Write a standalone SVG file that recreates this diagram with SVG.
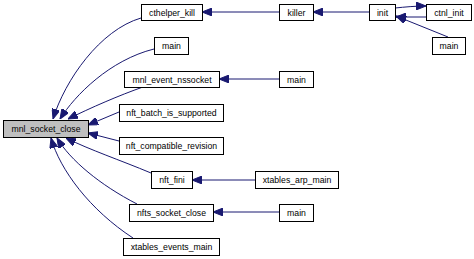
<svg xmlns="http://www.w3.org/2000/svg" width="474" height="259" viewBox="0 0 474 259">
<style>
.n rect{fill:#fff;stroke:#000;stroke-width:1}
.n.g rect{fill:#bfbfbf}
.n text{font-family:"Liberation Sans",Arial,sans-serif;font-size:8.7px;text-anchor:middle;fill:#000}
.e path{fill:none;stroke:#191970;stroke-width:1;marker-end:url(#ah)}
</style>
<defs>
<marker id="ah" viewBox="0 0 10 8" refX="10" refY="4" markerWidth="10" markerHeight="8" markerUnits="userSpaceOnUse" orient="auto">
<path d="M0,0 L10,4 L0,8 z" fill="#191970" stroke="#191970"/>
</marker>
</defs>
<rect width="474" height="259" fill="#fff"/>
<g id="edges" class="e">
<path d="M141,18 C100,30 65,80 53,119"/>
<path d="M154,49 C110,60 75,95 60,119"/>
<path d="M143,87 C120,95 90,108 68,119"/>
<path d="M119,112 L88,125"/>
<path d="M119,141 L88,133"/>
<path d="M151,173 C120,160 90,150 66,138"/>
<path d="M137,204 C100,185 70,160 57,138"/>
<path d="M133,238 C90,210 60,170 51,138"/>
<path d="M279,12 L202,12"/>
<path d="M369,12 L313,12"/>
<path d="M395,8 C405,7 415,6 426,6"/>
<path d="M426,17 L396,17"/>
<path d="M448,37 L396,16"/>
<path d="M279,79 L219,79"/>
<path d="M255,180 L192,180"/>
<path d="M279,212 L213,212"/>
</g>
<g id="mnl_socket_close" class="n g"><rect x="3.5" y="120.5" width="85" height="17"/><text x="46" y="132">mnl_socket_close</text></g>
<g id="cthelper_kill" class="n"><rect x="141.5" y="4.5" width="61" height="16"/><text x="172" y="15.5">cthelper_kill</text></g>
<g id="main1" class="n"><rect x="154.5" y="37.5" width="34" height="17"/><text x="171.5" y="49">main</text></g>
<g id="mnl_event_nssocket" class="n"><rect x="124.5" y="71.5" width="95" height="16"/><text x="172" y="82.5">mnl_event_nssocket</text></g>
<g id="nft_batch_is_supported" class="n"><rect x="119.5" y="104.5" width="104" height="17"/><text x="171.5" y="116">nft_batch_is_supported</text></g>
<g id="nft_compatible_revision" class="n"><rect x="119.5" y="137.5" width="104" height="17"/><text x="171.5" y="149">nft_compatible_revision</text></g>
<g id="nft_fini" class="n"><rect x="151.5" y="171.5" width="41" height="17"/><text x="172" y="183">nft_fini</text></g>
<g id="nfts_socket_close" class="n"><rect x="129.5" y="204.5" width="84" height="17"/><text x="171.5" y="216">nfts_socket_close</text></g>
<g id="xtables_events_main" class="n"><rect x="123.5" y="238.5" width="96" height="17"/><text x="171.5" y="250">xtables_events_main</text></g>
<g id="killer" class="n"><rect x="279.5" y="4.5" width="34" height="16"/><text x="296.5" y="15.5">killer</text></g>
<g id="init" class="n"><rect x="369.5" y="4.5" width="26" height="16"/><text x="382.5" y="15.5">init</text></g>
<g id="ctnl_init" class="n"><rect x="426.5" y="4.5" width="45" height="16"/><text x="449" y="15.5">ctnl_init</text></g>
<g id="main2" class="n"><rect x="432.5" y="37.5" width="33" height="17"/><text x="449" y="49">main</text></g>
<g id="main3" class="n"><rect x="279.5" y="71.5" width="34" height="16"/><text x="296.5" y="82.5">main</text></g>
<g id="xtables_arp_main" class="n"><rect x="255.5" y="171.5" width="83" height="17"/><text x="297" y="183">xtables_arp_main</text></g>
<g id="main4" class="n"><rect x="279.5" y="204.5" width="34" height="17"/><text x="296.5" y="216">main</text></g>
</svg>
